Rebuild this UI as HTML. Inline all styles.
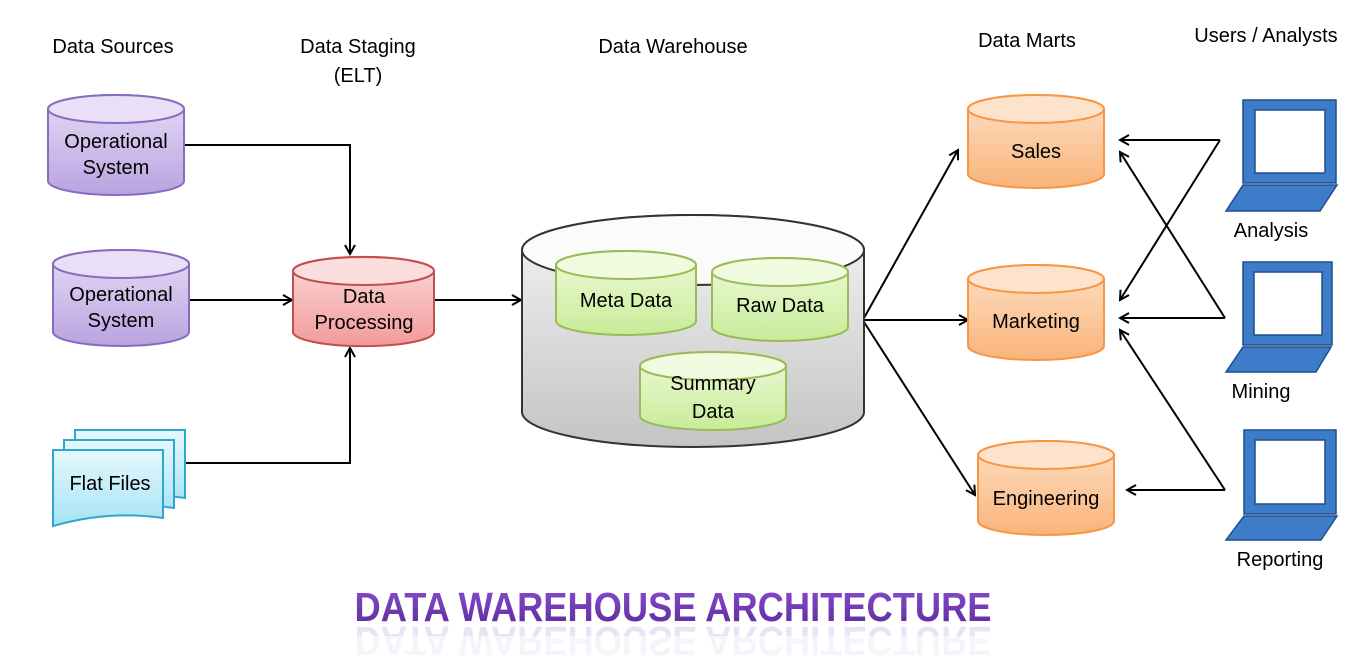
<!DOCTYPE html>
<html><head><meta charset="utf-8"><style>
body{margin:0;background:#fff;}
svg{display:block;font-family:"Liberation Sans",sans-serif;}
</style></head><body>
<svg width="1358" height="669" viewBox="0 0 1358 669" xmlns="http://www.w3.org/2000/svg">
<defs>
<marker id="a" markerWidth="12" markerHeight="12" refX="10" refY="6" orient="auto" markerUnits="userSpaceOnUse">
<path d="M1,1 L10,6 L1,11" fill="none" stroke="#000" stroke-width="2"/></marker>
<linearGradient id="pur" x1="0" x2="0" y1="0" y2="1"><stop offset="0" stop-color="#e6dcf5"/><stop offset="1" stop-color="#b9a3e0"/></linearGradient>
<linearGradient id="red" x1="0" x2="0" y1="0" y2="1"><stop offset="0" stop-color="#fbdada"/><stop offset="1" stop-color="#f29a9a"/></linearGradient>
<linearGradient id="gry" x1="0" x2="0" y1="0" y2="1"><stop offset="0" stop-color="#f4f4f4"/><stop offset="1" stop-color="#c4c4c4"/></linearGradient>
<linearGradient id="grn" x1="0" x2="0" y1="0" y2="1"><stop offset="0" stop-color="#eefadb"/><stop offset="1" stop-color="#c8ec98"/></linearGradient>
<linearGradient id="org" x1="0" x2="0" y1="0" y2="1"><stop offset="0" stop-color="#fde0c6"/><stop offset="1" stop-color="#f9b47a"/></linearGradient>
<linearGradient id="cyn" x1="0" x2="0" y1="0" y2="1"><stop offset="0" stop-color="#e6f8fd"/><stop offset="1" stop-color="#a5e3f5"/></linearGradient>
<linearGradient id="ttl" x1="0" x2="0" y1="0" y2="1"><stop offset="0" stop-color="#8a4fd0"/><stop offset="1" stop-color="#5a2a9a"/></linearGradient>
</defs>

<g font-size="20" fill="#000" text-anchor="middle">
<text x="113" y="53">Data Sources</text>
<text x="358" y="53">Data Staging</text>
<text x="358" y="82">(ELT)</text>
<text x="673" y="53">Data Warehouse</text>
<text x="1027" y="47">Data Marts</text>
<text x="1266" y="42">Users / Analysts</text>
</g>

<!-- connectors -->
<g stroke="#000" stroke-width="2" fill="none">
<polyline points="184,145 350,145 350,254" marker-end="url(#a)"/>
<line x1="189" y1="300" x2="292" y2="300" marker-end="url(#a)"/>
<polyline points="185,463 350,463 350,348" marker-end="url(#a)"/>
<line x1="434" y1="300" x2="521" y2="300" marker-end="url(#a)"/>
<line x1="864" y1="318" x2="958" y2="150" marker-end="url(#a)"/>
<line x1="864" y1="320" x2="968" y2="320" marker-end="url(#a)"/>
<line x1="864" y1="322" x2="975" y2="495" marker-end="url(#a)"/>
<line x1="1220" y1="140" x2="1120" y2="140" marker-end="url(#a)"/>
<line x1="1225" y1="318" x2="1120" y2="152" marker-end="url(#a)"/>
<line x1="1220" y1="140" x2="1120" y2="300" marker-end="url(#a)"/>
<line x1="1225" y1="318" x2="1120" y2="318" marker-end="url(#a)"/>
<line x1="1225" y1="490" x2="1120" y2="330" marker-end="url(#a)"/>
<line x1="1225" y1="490" x2="1127" y2="490" marker-end="url(#a)"/>
</g>

<!-- cylinder helper shapes -->
<g stroke-width="2">
<path d="M48,109 A68,14 0 0 1 184,109 V181 A68,14 0 0 1 48,181 Z" fill="url(#pur)" stroke="#8a6cbf"/>
<ellipse cx="116" cy="109" rx="68" ry="14" fill="#e9e0f7" stroke="#8a6cbf"/>
<path d="M53,264 A68,14 0 0 1 189,264 V332 A68,14 0 0 1 53,332 Z" fill="url(#pur)" stroke="#8a6cbf"/>
<ellipse cx="121" cy="264" rx="68" ry="14" fill="#e9e0f7" stroke="#8a6cbf"/>
<path d="M293,271 A70,14 0 0 1 434,271 V332 A70,14 0 0 1 293,332 Z" fill="url(#red)" stroke="#c0504d"/>
<ellipse cx="363.5" cy="271" rx="70.5" ry="14" fill="#fcdede" stroke="#c0504d"/>

<path d="M522,250 A171,35 0 0 1 864,250 V412 A171,35 0 0 1 522,412 Z" fill="url(#gry)" stroke="#333"/>
<ellipse cx="693" cy="250" rx="171" ry="35" fill="#fbfbfb" stroke="#333"/>

<path d="M556,265 A70,14 0 0 1 696,265 V321 A70,14 0 0 1 556,321 Z" fill="url(#grn)" stroke="#9bbb59"/>
<ellipse cx="626" cy="265" rx="70" ry="14" fill="#f0fbe0" stroke="#9bbb59"/>
<path d="M712,272 A68,14 0 0 1 848,272 V327 A68,14 0 0 1 712,327 Z" fill="url(#grn)" stroke="#9bbb59"/>
<ellipse cx="780" cy="272" rx="68" ry="14" fill="#f0fbe0" stroke="#9bbb59"/>
<path d="M640,366 A73,14 0 0 1 786,366 V416 A73,14 0 0 1 640,416 Z" fill="url(#grn)" stroke="#9bbb59"/>
<ellipse cx="713" cy="366" rx="73" ry="14" fill="#f0fbe0" stroke="#9bbb59"/>

<path d="M968,109 A68,14 0 0 1 1104,109 V174 A68,14 0 0 1 968,174 Z" fill="url(#org)" stroke="#f79646"/>
<ellipse cx="1036" cy="109" rx="68" ry="14" fill="#fde3cc" stroke="#f79646"/>
<path d="M968,279 A68,14 0 0 1 1104,279 V346 A68,14 0 0 1 968,346 Z" fill="url(#org)" stroke="#f79646"/>
<ellipse cx="1036" cy="279" rx="68" ry="14" fill="#fde3cc" stroke="#f79646"/>
<path d="M978,455 A68,14 0 0 1 1114,455 V521 A68,14 0 0 1 978,521 Z" fill="url(#org)" stroke="#f79646"/>
<ellipse cx="1046" cy="455" rx="68" ry="14" fill="#fde3cc" stroke="#f79646"/>

<!-- flat files -->
<path d="M75,430 H185 V498 Q130,490 75,505 Z" fill="url(#cyn)" stroke="#31a6cc"/>
<path d="M64,440 H174 V508 Q119,500 64,515 Z" fill="url(#cyn)" stroke="#31a6cc"/>
<path d="M53,450 H163 V518 Q108,510 53,526 Z" fill="url(#cyn)" stroke="#31a6cc"/>
</g>

<!-- laptops -->
<g fill="#3d7cc9" stroke="#1f4e8c" stroke-width="1.5">
<rect x="1243" y="100" width="93" height="83"/><rect x="1255" y="110" width="70" height="63" fill="#fff"/>
<path d="M1243,185 H1337 L1320,211 H1226 Z"/>
<rect x="1243" y="262" width="89" height="83"/><rect x="1254" y="272" width="68" height="63" fill="#fff"/>
<path d="M1243,347 H1331 L1316,372 H1226 Z"/>
<rect x="1244" y="430" width="92" height="84"/><rect x="1255" y="440" width="70" height="64" fill="#fff"/>
<path d="M1244,516 H1337 L1321,540 H1226 Z"/>
</g>

<g font-size="20" fill="#000" text-anchor="middle">
<text x="116" y="148">Operational</text><text x="116" y="174">System</text>
<text x="121" y="301">Operational</text><text x="121" y="327">System</text>
<text x="364" y="303">Data</text><text x="364" y="329">Processing</text>
<text x="626" y="307">Meta Data</text>
<text x="780" y="312">Raw Data</text>
<text x="713" y="390">Summary</text><text x="713" y="418">Data</text>
<text x="110" y="490">Flat Files</text>
<text x="1036" y="158">Sales</text>
<text x="1036" y="328">Marketing</text>
<text x="1046" y="505">Engineering</text>
<text x="1271" y="237">Analysis</text>
<text x="1261" y="398">Mining</text>
<text x="1280" y="566">Reporting</text>
</g>

<text x="673" y="621" font-size="41" font-weight="bold" fill="url(#ttl)" text-anchor="middle" textLength="637" lengthAdjust="spacingAndGlyphs">DATA WAREHOUSE ARCHITECTURE</text>
<g transform="translate(0,1248) scale(1,-1)" opacity="0.15">
<text x="673" y="621" font-size="41" font-weight="bold" fill="#7a45c0" text-anchor="middle" textLength="637" lengthAdjust="spacingAndGlyphs">DATA WAREHOUSE ARCHITECTURE</text>
</g>
<rect x="0" y="636" width="1358" height="33" fill="#fff" opacity="0.6"/>
</svg>
</body></html>
